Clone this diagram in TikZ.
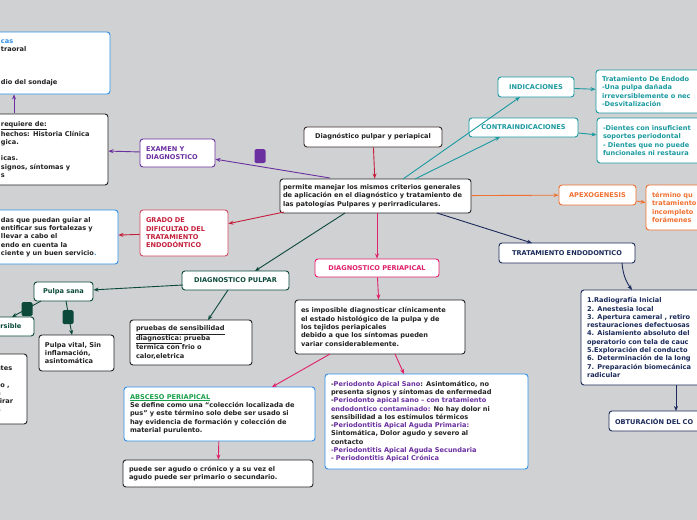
\documentclass[tikz,border=0pt]{standalone}
\usepackage{fontspec}
\setmainfont{DejaVu Sans}
\usetikzlibrary{arrows.meta}
\hyphenpenalty=10000
\definecolor{bg}{HTML}{D0D1D3}
\definecolor{cpur}{HTML}{6B2FA0}
\definecolor{cred}{HTML}{C41E3A}
\definecolor{cteal}{HTML}{1A9AA0}
\definecolor{corg}{HTML}{F07030}
\definecolor{cnavy}{HTML}{1B2A5A}
\definecolor{cgrn}{HTML}{0B4A3A}
\definecolor{cpink}{HTML}{E0206A}
\definecolor{cblue}{HTML}{2F8FE8}
\definecolor{cabs}{HTML}{1AA04A}
\definecolor{cbrn}{HTML}{3A2A2A}
\definecolor{cdark}{HTML}{222222}
\newcommand\bx[8]{\node[box,minimum width=#4pt,minimum height=#5pt,text width=#4pt-12pt,align=#7,#6] (#1) at (#2,#3) {#8};}
\newcommand\blank{\mbox{}}
\tikzset{
 box/.style={draw,rounded corners=3pt,fill=white,line width=0.9pt,inner sep=0pt,font=\fontsize{6.6}{8.3}\selectfont\bfseries,text=cdark},
 arr/.style={-{Stealth[length=5pt,width=4pt]},line width=0.9pt},
 sq/.style={rounded corners=1.5pt,inner sep=0pt,minimum width=11pt,minimum height=14pt}
}
\begin{document}
\begin{tikzpicture}[x=1pt,y=-1pt]
\fill[bg] (0,0) rectangle (697,520);
\useasboundingbox (0,0) rectangle (697,520);
\clip (0,0) rectangle (697,520);
\bx{tl}{52.5}{63}{115}{62}{draw=cblue}{left}{\textcolor{cblue}{cas}\\traoral\\\blank\\\blank\\\blank\\dio del sondaje}
\bx{b2}{51.5}{149.5}{113}{71}{draw=cdark}{left}{\underline{requiere de:}\\hechos: Historia Clínica\\gica.\\\blank\\icas.\\signos, síntomas y\\s}
\bx{exa}{177.5}{153}{75}{28}{draw=cpur,text=cpur}{left}{EXAMEN Y\\DIAGNOSTICO}
\bx{b3}{56.5}{237}{123}{54}{draw=cblue}{left}{das que puedan guiar al\\entificar sus fortalezas y\\ llevar a cabo el\\endo en cuenta la\\ciente y un buen servicio\textcolor{cblue}{.}}
\bx{gra}{184}{233}{88}{46}{draw=cred!80,text=cred}{left}{GRADO DE\\DIFICULTAD DEL\\TRATAMIENTO\\ENDODÓNTICO}
\bx{tit}{373}{137}{138}{20}{draw=cbrn}{center}{Diagnóstico pulpar y periapical}
\bx{cen}{375.5}{196}{191}{34}{draw=cdark,text width=185pt}{left}{permite manejar los mismos criterios generales\\de aplicación en el diagnóstico y tratamiento de\\las patologías Pulpares y perirradiculares.}
\bx{ind}{536}{87}{76}{20}{draw=cteal,text=cteal}{center}{INDICACIONES}
\bx{con}{523.5}{127.5}{109}{19}{draw=cteal,text=cteal}{center}{CONTRAINDICACIONES}
\bx{trb}{653}{91.5}{114}{43}{draw=cteal,text=cteal}{left}{Tratamiento De Endodo\\-Una pulpa dañada\\irreversiblemente o nec\\-Desvitalización}
\bx{die}{653.5}{140.5}{113}{45}{draw=cteal,text=cteal}{left}{-Dientes con insuficient\\soportes periodontal\\- Dientes que no puede\\funcionales ni restaura}
\bx{apx}{597.5}{195}{77}{20}{draw=corg,text=corg}{center}{APEXOGENESIS}
\bx{ter}{678}{207.5}{64}{45}{draw=corg,text=corg}{left}{término qu\\tratamiento\\incompleto\\forámenes}
\bx{ten}{567}{253}{136}{20}{draw=cnavy,text=cnavy}{center}{TRATAMIENTO ENDODONTICO}
\bx{stp}{645.5}{337.5}{129}{95}{draw=cnavy,text=cnavy}{left}{1.Radiografía Inicial\\2. Anestesia local\\3. Apertura cameral , retiro\\restauraciones defectuosas\\4. Aislamiento absoluto del\\operatorio con tela de cauc\\5.Exploración del conducto\\6. Determinación de la long\\7. Preparación biomecánica\\radicular}
\bx{obt}{659.5}{421}{101}{20}{draw=cnavy,text=cnavy}{left}{OBTURACIÓN DEL CO}
\bx{dpe}{377}{268}{124}{18}{draw=cpink,text=cpink}{center}{DIAGNOSTICO PERIAPICAL}
\bx{imp}{380}{327}{170}{54}{draw=cdark}{left}{es imposible diagnosticar clínicamente\\el estado histológico de la pulpa y de\\los tejidos periapicales\\debido a que los síntomas pueden\\variar considerablemente.}
\bx{per}{426.5}{421.5}{203}{95}{draw=cblue}{left}{-\textcolor{cpur}{Periodonto Apical Sano}: Asintomático, no\\presenta signos y síntomas de enfermedad\\-\textcolor{cpur}{Periodonto apical sano – con tratamiento}\\\textcolor{cpur}{endodontico contaminado:} No hay dolor ni\\sensibilidad a los estímulos térmicos\\-\textcolor{cpur}{Periodontitis Apical Aguda Primaria:}\\Sintomática, Dolor agudo y severo al\\contacto\\\textcolor{cpur}{-Periodontitis Apical Aguda Secundaria}\\\textcolor{cpur}{- Periodontitis Apical Crónica}}
\bx{abs}{219.5}{414}{191}{54}{draw=cblue}{left}{\textcolor{cabs}{\underline{ABSCESO PERIAPICAL}}\\Se define como una ``colección localizada de\\pus'' y este término solo debe ser usado si\\hay evidencia de formación y colección de\\material purulento.}
\bx{pue}{218}{473.5}{190}{27}{draw=cdark}{left}{puede ser agudo o crónico y a su vez el\\agudo puede ser primario o secundario.}
\bx{dpu}{235.5}{280.5}{107}{19}{draw=cgrn,text=cgrn}{center}{DIAGNOSTICO PULPAR}
\bx{psa}{63.5}{291.5}{59}{19}{draw=cgrn,text=cgrn}{center}{Pulpa sana}
\bx{irr}{12}{326.5}{44}{19}{draw=cgrn,text=cgrn}{left}{ersible}
\bx{pvi}{76.5}{353}{75}{36}{draw=cdark}{left}{Pulpa vital, Sin\\inflamación,\\asintomática}
\bx{nte}{8.5}{389}{37}{70}{draw=cdark}{left}{ntes\\\blank\\eo ,\\n\\cirar\\o}
\bx{pru}{191}{342.5}{122}{45}{draw=cdark}{left}{\underline{pruebas de sensibilidad}\\\underline{diagnostica:} prueba\\termica con frio o\\calor,eletrica}
% connectors
\draw[arr,cpur] (330,178) -- (exa);
\node[sq,fill=cpur] at (260,156) {};
\draw[arr,cpur] (exa) -- (b2);
\draw[arr,cpur] (14,113) -- (tl.south -| 14,0);
\draw[arr,cred] (284,212) -- (gra);
\draw[arr,cred] (gra) -- (b3);
\draw[arr,cred] (tit) -- (cen);
\draw[arr,cteal] (403,179) -- (520,97);
\draw[arr,cteal] (415,179) -- (500,137);
\draw[arr,cteal] (ind) -- (trb);
\draw[arr,cteal] (con) -- (die);
\draw[arr,corg] (cen) -- (apx);
\draw[arr,corg] (apx) -- (ter);
\draw[arr,cnavy] (437,213) -- (532,243);
\draw[arr,cnavy] (622,263) to[bend right=15] (632,290);
\draw[arr,cnavy] (676,385) -- (676,411);
\draw[arr,cpink] (377,213) -- (dpe);
\draw[arr,cpink] (dpe) -- (imp);
\draw[arr,cpink] (330,354) -- (272,387);
\draw[arr,cpink] (395,354) -- (404,374);
\draw[arr,cpink] (abs) -- (pue);
\draw[arr,cgrn] (345,213) -- (255,271);
\draw[arr,cgrn] (183,285) -- (psa);
\draw[arr,cgrn] (228,290) -- (208,320);
\draw[arr,cgrn] (41,301) -- (12,317);
\node[sq,fill=cgrn] at (27,309) {};
\draw[arr,cgrn] (66,301) -- (72,335);
\node[sq,fill=cgrn] at (68,317) {};
\end{tikzpicture}
\end{document}
